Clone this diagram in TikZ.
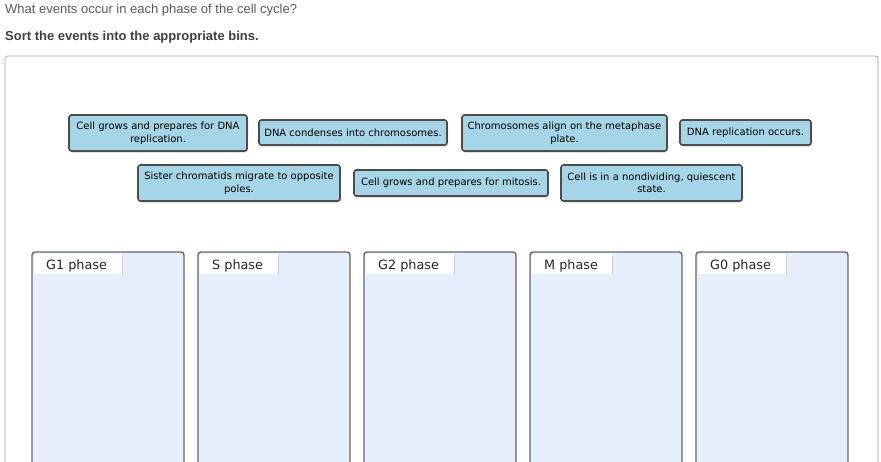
\documentclass[tikz,border=0pt]{standalone}
\usepackage{fontspec}
\setmainfont{Liberation Sans}
\newfontfamily\vf{DejaVu Sans}
\usetikzlibrary{shadows}
\definecolor{cardblue}{RGB}{166,213,232}
\definecolor{binfill}{RGB}{230,238,252}
\definecolor{hdr}{RGB}{90,90,90}
\tikzset{
  card/.style={draw=black!70,line width=1.6pt,fill=cardblue,rounded corners=2.5pt,
    align=center,inner sep=0pt,font=\vf\fontsize{10}{12.5}\selectfont,
    drop shadow={shadow xshift=1pt,shadow yshift=-1.5pt,opacity=0.35}},
  bin/.style={draw=black!60,line width=1.4pt,fill=binfill,rounded corners=3pt},
  tab/.style={fill=white,draw=none},
  binlabel/.style={anchor=west,font=\vf\fontsize{12.8}{14}\selectfont,text=black!85,inner sep=0pt}
}
\newcommand{\cardat}[6]{\node[card,minimum width=#3-#1,minimum height=#4-#2] (#5) at ({(#1+#3)/2},{-(#2+#4)/2}) {#6};}
\begin{document}
\begin{tikzpicture}[x=1pt,y=1pt]
\useasboundingbox (0,0) rectangle (881,-461);
\fill[white] (0,0) rectangle (881,-461);
\node[anchor=west,inner sep=0pt,text=hdr,font=\fontsize{13}{15}\selectfont] (q) at (5,-10) {What events occur in each phase of the cell cycle?};
\node[anchor=west,inner sep=0pt,text=black!75,font=\bfseries\fontsize{13}{15}\selectfont] (s) at (5,-37) {Sort the events into the appropriate bins.};
\draw[black!35,line width=0.8pt,rounded corners=3pt] (5,-470) -- (5,-56) -- (878,-56) -- (878,-470);
\cardat{69}{115}{247}{151}{c1}{Cell grows and prepares for DNA\\replication.}
\cardat{259}{120}{447}{145}{c2}{DNA condenses into chromosomes.}
\cardat{462}{115}{667}{151}{c3}{Chromosomes align on the metaphase\\plate.}
\cardat{680}{120}{811}{145}{c4}{DNA replication occurs.}
\cardat{138}{165}{340}{201}{c5}{Sister chromatids migrate to opposite\\poles.}
\cardat{354}{170}{548}{196}{c6}{Cell grows and prepares for mitosis.}
\cardat{561}{165}{742}{201}{c7}{Cell is in a nondividing, quiescent\\state.}
\foreach \x/\lab/\tw/\n in {32/G1 phase/90/b1,198/S phase/80/b2,364/G2 phase/90/b3,530/M phase/82/b4,696/G0 phase/90/b5}{
  \draw[bin] (\x,-470) -- (\x,-252) -- (\x+152,-252) -- (\x+152,-470);
  \fill[binfill] (\x+1,-254) rectangle (\x+151,-470);
  \fill[tab] (\x+2,-254) rectangle (\x+\tw,-274);
  \draw[black!20,line width=1pt] (\x+\tw,-256) -- (\x+\tw,-274);
  \node[binlabel] (\n) at (\x+14,-266) {\lab};
}
\end{tikzpicture}
\end{document}
